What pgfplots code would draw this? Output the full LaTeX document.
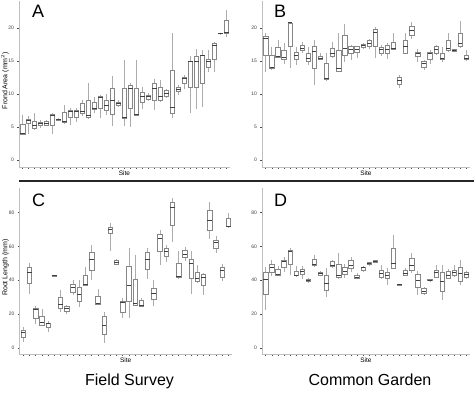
\documentclass[border=0pt]{standalone}
\usepackage{pgfplots}
\pgfplotsset{compat=1.18}
\usepgfplotslibrary{statistics}
\usepackage{fontspec}
\setmainfont{Liberation Sans}
\setsansfont{Liberation Sans}

% one box: position, lower whisker, lower quartile, median, upper quartile, upper whisker
\newcommand{\bx}[6]{\addplot[gray!90, boxplot prepared={draw position=#1,lower whisker=#2,lower quartile=#3,median=#4,upper quartile=#5,upper whisker=#6}] coordinates {};}

\pgfplotsset{
  panel/.style={
    scale only axis, anchor=south west, clip=false,
    axis x line*=bottom, axis y line*=left,
    axis line style={gray!50, line width=0.8pt},
    tick style={gray!60!black, line width=0.35pt},
    tick align=outside, major tick length=1.8pt,
    xticklabels={},
    tick label style={font=\fontsize{5}{6}\selectfont, text=gray!50!black},
    yticklabel style={xshift=0.2pt},
    /pgf/number format/assume math mode=true,
    xlabel={Site},
    every axis x label/.style={at={(axis description cs:0.5,0)}, anchor=north, yshift=0pt, font=\fontsize{6.5}{7}\selectfont},
    every axis y label/.style={at={(axis description cs:-0.066,0.52)}, rotate=90, anchor=center, font=\fontsize{7}{8}\selectfont},
    boxplot/draw direction=y,
    boxplot/box extend=0.72,
    boxplot/whisker extend=0,
    boxplot/every box/.style={draw=gray!95, line width=0.5pt},
    boxplot/every whisker/.style={draw=gray!65, line width=0.5pt},
    boxplot/every median/.style={draw=black!75, line width=0.9pt},
  },
  panelAB/.style={height=166pt, ymin=-1.06, ymax=24.1, ytick={0,5,10,15,20}},
  panelCD/.style={height=166pt, ymin=-3.7, ymax=94.6, ytick={0,20,40,60,80}},
}

\begin{document}
\begin{tikzpicture}[x=1pt,y=1pt]
\path[use as bounding box] (0,0) rectangle (474,394);

% ---------------- A: Field survey, frond area
\begin{axis}[panel, panelAB, at={(19pt,227pt)}, width=211pt,
  xmin=0.4, xmax=35.6, xtick={1,...,35},
  ylabel={Frond Area (mm$^{2}$)}]
\bx{1}{3.8}{3.9}{4.0}{5.45}{6.8}
\bx{2}{4.0}{5.5}{6.0}{6.2}{6.7}
\bx{3}{4.5}{4.8}{5.2}{5.8}{7.1}
\bx{4}{4.9}{5.2}{5.5}{5.7}{6.1}
\bx{5}{5.1}{5.3}{5.5}{5.8}{6.0}
\bx{6}{4.0}{5.3}{6.8}{6.9}{7.2}
\bx{7}{5.9}{6.0}{6.1}{6.2}{6.3}
\bx{8}{5.5}{5.7}{5.8}{7.3}{8.3}
\bx{9}{5.3}{6.5}{7.4}{7.6}{7.9}
\bx{10}{5.8}{6.5}{7.3}{7.5}{7.9}
\bx{11}{6.7}{7.1}{7.4}{8.6}{9.1}
\bx{12}{6.2}{6.5}{6.7}{9.1}{11.6}
\bx{13}{7.1}{7.7}{7.8}{8.8}{9.5}
\bx{14}{6.3}{7.8}{9.5}{9.7}{9.9}
\bx{15}{6.8}{7.5}{8.2}{9.1}{10.0}
\bx{16}{5.1}{7.0}{9.0}{10.9}{12.7}
\bx{17}{8.0}{8.3}{8.6}{8.7}{9.1}
\bx{18}{5.1}{6.3}{6.4}{10.9}{15.2}
\bx{19}{5.0}{7.9}{10.9}{11.4}{11.6}
\bx{20}{6.6}{6.8}{6.9}{10.9}{15.2}
\bx{21}{7.8}{8.8}{9.6}{10.2}{11.1}
\bx{22}{9.0}{9.2}{9.6}{9.8}{10.1}
\bx{23}{7.6}{9.1}{10.9}{11.6}{12.3}
\bx{24}{8.8}{9.1}{9.6}{11.0}{12.1}
\bx{25}{9.5}{9.6}{10.1}{10.6}{10.8}
\bx{26}{6.3}{7.1}{8.0}{13.6}{19.2}
\bx{27}{9.9}{10.35}{10.7}{11.0}{11.4}
\bx{28}{10.7}{11.6}{12.4}{12.5}{12.9}
\bx{29}{7.1}{11.0}{14.9}{14.9}{15.7}
\bx{30}{7.8}{11.1}{14.9}{15.7}{16.8}
\bx{31}{8.1}{11.6}{15.9}{15.9}{16.7}
\bx{32}{13.4}{14.1}{14.9}{15.2}{16.7}
\bx{33}{13.4}{15.2}{17.3}{17.7}{17.9}
\bx{34}{19.1}{19.15}{19.2}{19.25}{19.3}
\bx{35}{18.7}{19.2}{19.4}{21.2}{22.7}
\end{axis}

% ---------------- B: Common garden, frond area
\begin{axis}[panel, panelAB, at={(262pt,227pt)}, width=208pt,
  xmin=0.4, xmax=34.6, xtick={1,...,34}]
\bx{1}{13.4}{15.9}{18.4}{18.7}{19.2}
\bx{2}{13.6}{13.9}{14.1}{15.9}{17.1}
\bx{3}{15.5}{15.6}{15.7}{17.1}{18.2}
\bx{4}{14.6}{15.2}{15.6}{16.7}{17.8}
\bx{5}{13.9}{17.2}{20.8}{20.8}{20.8}
\bx{6}{14.4}{15.2}{15.9}{16.4}{17.2}
\bx{7}{16.2}{16.6}{16.9}{17.4}{17.9}
\bx{8}{14.4}{14.9}{15.4}{16.2}{17.2}
\bx{9}{11.4}{13.9}{16.4}{17.3}{18.2}
\bx{10}{15.2}{15.3}{15.4}{15.8}{16.2}
\bx{11}{12.1}{12.2}{12.4}{14.7}{16.2}
\bx{12}{15.5}{15.7}{16.2}{16.9}{17.9}
\bx{13}{13.4}{13.5}{13.9}{16.7}{19.2}
\bx{14}{14.9}{15.9}{16.9}{18.9}{20.6}
\bx{15}{15.1}{16.2}{16.8}{17.2}{17.4}
\bx{16}{15.4}{16.3}{16.7}{17.2}{17.3}
\bx{17}{16.9}{17.1}{17.3}{17.6}{17.8}
\bx{18}{16.9}{17.3}{17.7}{18.1}{18.3}
\bx{19}{15.4}{17.3}{19.4}{19.8}{20.1}
\bx{20}{15.7}{16.2}{16.7}{17.1}{17.4}
\bx{21}{15.3}{16.2}{16.8}{17.4}{17.7}
\bx{22}{16.7}{16.8}{16.9}{17.9}{19.2}
\bx{23}{10.9}{11.5}{12.0}{12.5}{12.9}
\bx{24}{16.1}{16.2}{17.2}{18.2}{19.2}
\bx{25}{18.4}{18.9}{19.6}{20.2}{20.9}
\bx{26}{14.9}{15.7}{16.2}{16.4}{16.8}
\bx{27}{13.6}{14.1}{14.6}{14.9}{15.2}
\bx{28}{14.6}{15.2}{16.1}{16.3}{16.7}
\bx{29}{15.9}{16.2}{16.8}{17.2}{17.4}
\bx{30}{14.9}{15.2}{15.4}{16.2}{17.2}
\bx{31}{16.4}{16.6}{16.9}{18.2}{19.3}
\bx{32}{16.4}{16.5}{16.6}{16.8}{16.9}
\bx{33}{17.1}{17.2}{17.7}{19.2}{21.1}
\bx{34}{15.1}{15.2}{15.4}{15.9}{16.6}
\end{axis}

% ---------------- C: Field survey, root length
\begin{axis}[panel, panelCD, at={(19.5pt,40pt)}, width=212.5pt,
  xmin=0.4, xmax=34.6, xtick={1,...,34},
  ylabel={Root Length (mm)}]
\bx{1}{3.6}{6.1}{8.9}{10.1}{12.4}
\bx{2}{32}{38}{44.5}{47.5}{50}
\bx{3}{14}{17.4}{22.7}{23.3}{25}
\bx{4}{13}{13.4}{14.8}{18.8}{23}
\bx{5}{9.5}{12}{14.4}{14.8}{16}
\bx{6}{42}{42.3}{42.7}{43}{43.3}
\bx{7}{21}{23.3}{25.7}{29.8}{34}
\bx{8}{20}{21.9}{23.3}{24.3}{25.3}
\bx{9}{31}{32.6}{35.7}{37.7}{40}
\bx{10}{24}{27.3}{31.8}{36.1}{40}
\bx{11}{37}{37.1}{37.7}{43}{48}
\bx{12}{40}{46}{52.5}{56.3}{60.8}
\bx{13}{25.5}{25.9}{26.3}{30.6}{34.5}
\bx{14}{2.6}{8.1}{13.4}{18.8}{21.3}
\bx{15}{57}{68.1}{70.1}{71.3}{74}
\bx{16}{49.2}{49.6}{50.4}{51.6}{52.6}
\bx{17}{17.4}{21.3}{26.7}{27.3}{29.4}
\bx{18}{17.4}{27.3}{37.1}{48.2}{59}
\bx{19}{24.5}{25.3}{26}{40.5}{55}
\bx{20}{24.3}{24.7}{25.3}{27.9}{29.5}
\bx{21}{41}{46.4}{52.5}{56.3}{58.9}
\bx{22}{25}{28.6}{32.2}{35.2}{40}
\bx{23}{49}{56.9}{64.8}{67.4}{69.7}
\bx{24}{51}{53.9}{56.9}{58.9}{61}
\bx{25}{62.8}{72.7}{83.2}{85.9}{88.5}
\bx{26}{40.8}{41.8}{42.3}{50.2}{57.5}
\bx{27}{51.5}{53.5}{55.5}{57.5}{59.5}
\bx{28}{32}{41.1}{50}{52.3}{57}
\bx{29}{38.5}{39.1}{41.1}{45}{49}
\bx{30}{31}{37}{41.5}{43.5}{44}
\bx{31}{64.2}{69.7}{75.6}{81.2}{86.5}
\bx{32}{56}{58.9}{62.2}{63.4}{66}
\bx{33}{39.5}{41.7}{45.6}{47.6}{49.5}
\bx{34}{71.3}{71.7}{72.1}{76.6}{80}
\end{axis}

% ---------------- D: Common garden, root length
\begin{axis}[panel, panelCD, at={(262pt,40pt)}, width=208pt,
  xmin=0.4, xmax=34.6, xtick={1,...,34}]
\bx{1}{22.3}{31.6}{40.5}{44.6}{48}
\bx{2}{42.5}{45}{47.4}{49.4}{52}
\bx{3}{42.8}{43.1}{43.5}{46.6}{48.5}
\bx{4}{44.6}{47.4}{51}{52}{54}
\bx{5}{43}{49.4}{56.9}{57.9}{58.9}
\bx{6}{42}{42.7}{43.1}{45.4}{48.5}
\bx{7}{41}{43.5}{45}{46.6}{48.5}
\bx{8}{38.8}{39.1}{39.7}{40.5}{41.5}
\bx{9}{47.8}{49}{49.4}{52.5}{55}
\bx{10}{42.7}{43.1}{44}{44.6}{45.4}
\bx{11}{30}{34.2}{38.1}{43.1}{47}
\bx{12}{47}{48}{48.6}{51.4}{52}
\bx{13}{40.7}{41.5}{42.7}{49.4}{56}
\bx{14}{41.5}{43.5}{45.4}{47.4}{49.4}
\bx{15}{44.6}{47}{49}{52}{54}
\bx{16}{40.8}{41.1}{41.9}{42.7}{44}
\bx{17}{44.6}{45.8}{47.8}{47.8}{48.6}
\bx{18}{49}{49.2}{49.8}{50.6}{51}
\bx{19}{50.4}{50.6}{51.4}{51.8}{52.2}
\bx{20}{40.8}{42}{44}{46}{49}
\bx{21}{37.3}{41.1}{43.1}{45}{47}
\bx{22}{46.6}{47}{50}{58.9}{66.8}
\bx{23}{37.1}{37.3}{37.5}{37.7}{37.9}
\bx{24}{43.1}{43.1}{44}{46}{47}
\bx{25}{44.5}{46}{49}{52.9}{56}
\bx{26}{31.2}{36.1}{40.1}{43.5}{45.4}
\bx{27}{31.2}{32.2}{33.6}{35.2}{36.2}
\bx{28}{39.5}{39.7}{40.1}{40.7}{41}
\bx{29}{42}{42}{44.6}{46}{49}
\bx{30}{28.2}{33.2}{39.1}{44.6}{49}
\bx{31}{40.8}{41.1}{43.1}{45.4}{46.6}
\bx{32}{42}{42.7}{44.6}{46}{49}
\bx{33}{37}{39.5}{44}{47.4}{52}
\bx{34}{40.8}{42}{43.5}{44.6}{45.4}
\end{axis}

% panel letters, separator and column titles
\node[anchor=base west, font=\fontsize{18}{20}\selectfont, inner sep=0pt] at (32,376) {A};
\node[anchor=base west, font=\fontsize{18}{20}\selectfont, inner sep=0pt] at (274,376) {B};
\node[anchor=base west, font=\fontsize{18}{20}\selectfont, inner sep=0pt] at (32,187) {C};
\node[anchor=base west, font=\fontsize{18}{20}\selectfont, inner sep=0pt] at (274,187) {D};
\draw[gray!30!black, line width=1.8pt] (19,213) -- (474,213);
\node[anchor=base, font=\fontsize{16}{18}\selectfont, inner sep=0pt] at (129.5,9) {Field Survey};
\node[anchor=base, font=\fontsize{16}{18}\selectfont, inner sep=0pt] at (370,9) {Common Garden};
\end{tikzpicture}
\end{document}
